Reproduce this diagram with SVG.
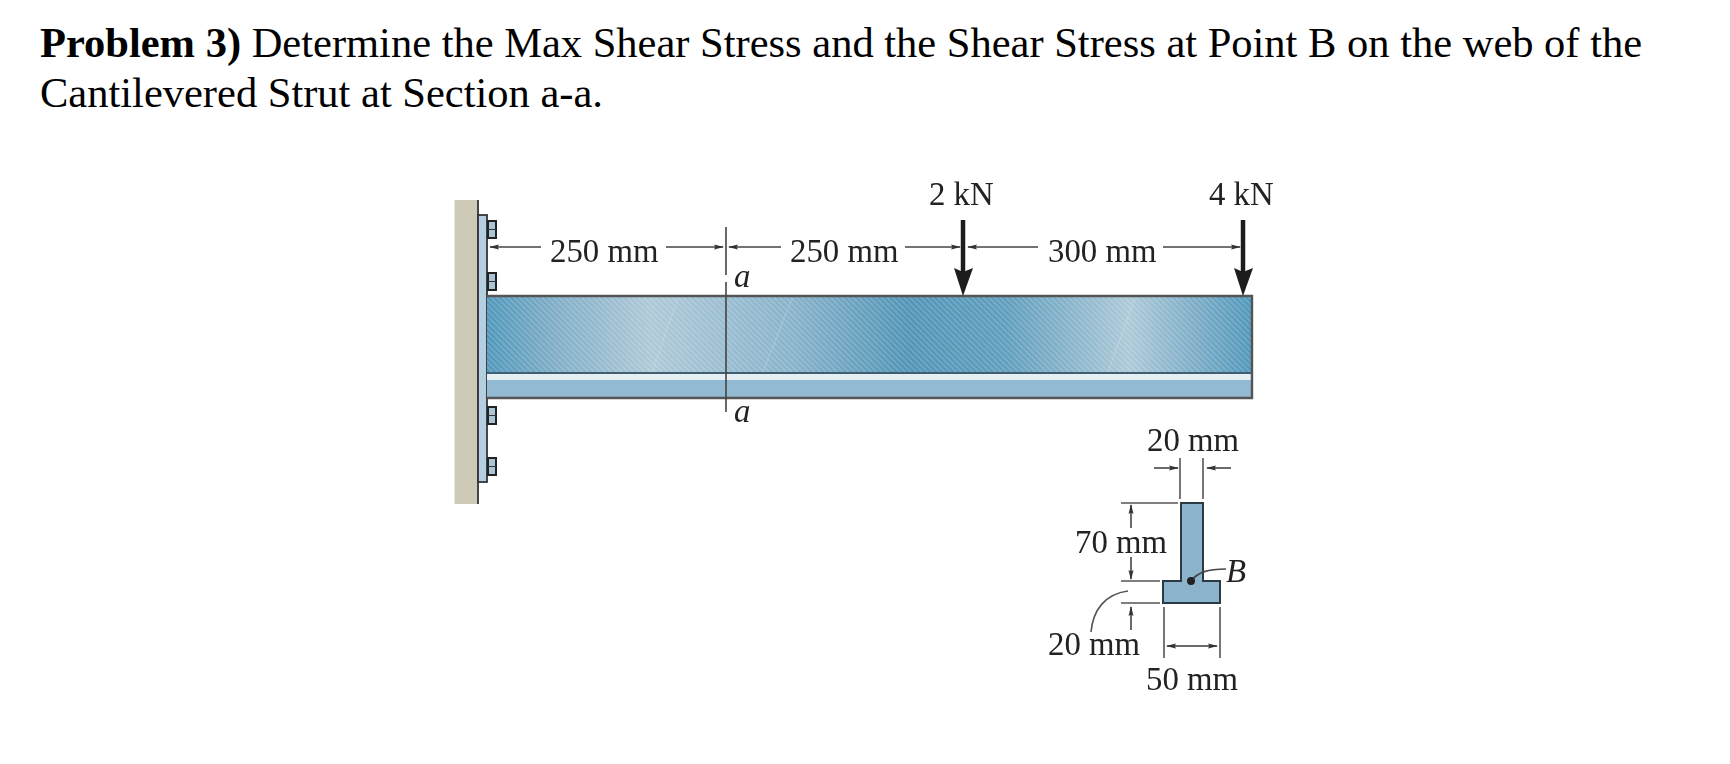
<svg xmlns="http://www.w3.org/2000/svg" width="1730" height="764" viewBox="0 0 1730 764">
<style>
.t{font-family:"Liberation Serif","Times New Roman",serif;fill:#000;font-size:42.500px}
.d{font-family:"Liberation Serif","Times New Roman",serif;fill:#222;font-size:32.800px}
.i{font-style:italic}
.l{stroke:#444;stroke-width:1.600;fill:none}
.e{stroke:#555;stroke-width:1.600;fill:none}
.ar{marker-end:url(#m)}
.bolt{fill:#a9c4d4;stroke:#222;stroke-width:2}
</style>
<defs>
<marker id="m" markerWidth="10" markerHeight="6" refX="9" refY="2.500" orient="auto" markerUnits="userSpaceOnUse" viewBox="0 0 10 5"><path d="M0 0L10 2.500L0 5L1.500 2.500Z" fill="#333"/></marker>
<linearGradient id="web" x1="487" x2="1252" y1="0" y2="0" gradientUnits="userSpaceOnUse">
<stop offset="0" stop-color="#4e96ba"/><stop offset=".09" stop-color="#7fadc6"/><stop offset=".215" stop-color="#adc8d7"/><stop offset=".29" stop-color="#9dbfd2"/><stop offset=".4" stop-color="#86b1c9"/><stop offset=".55" stop-color="#4f93b6"/><stop offset=".68" stop-color="#5f9dbd"/><stop offset=".84" stop-color="#acc8d7"/><stop offset=".93" stop-color="#78aac5"/><stop offset="1" stop-color="#4e96ba"/>
</linearGradient>
<pattern id="h" width="4" height="4" patternUnits="userSpaceOnUse" patternTransform="rotate(-45)"><rect width="2" height="4" fill="#fff" fill-opacity=".16"/></pattern>
<filter id="b" x="-5%" y="-5%" width="110%" height="110%"><feGaussianBlur stdDeviation=".7"/></filter>
</defs>
<rect width="1730" height="764" fill="#fff"/>
<g id="title">
<text class="t" x="40" y="57"><tspan font-weight="700">Problem 3)</tspan> Determine the Max Shear Stress and the Shear Stress at Point B on the web of the</text>
<text class="t" x="40" y="107">Cantilevered Strut at Section a-a.</text>
</g>
<g filter="url(#b)">
<g id="wall">
<rect x="454.500" y="200" width="23" height="304" fill="#cdcbb7"/>
<path d="M478 200V504" stroke="#444" stroke-width="2"/>
</g>
<g id="plate">
<rect x="478" y="215" width="9" height="267" fill="#b4cfe0" stroke="#333" stroke-width="1.800"/>
<g id="bolts">
<rect class="bolt" x="488" y="221" width="8" height="17"/><path d="M488 229.500h8" stroke="#333"/>
<rect class="bolt" x="488" y="273" width="8" height="17"/><path d="M488 281.500h8" stroke="#333"/>
<rect class="bolt" x="488" y="407" width="8" height="17"/><path d="M488 415.500h8" stroke="#333"/>
<rect class="bolt" x="488" y="458" width="8" height="17"/><path d="M488 466.500h8" stroke="#333"/>
</g>
</g>
<g id="beam">
<rect x="487" y="296" width="765" height="77" fill="url(#web)"/>
<rect x="487" y="296" width="765" height="77" fill="url(#h)"/>
<path d="M652 372L678 298M763 372L792 298M1108 372L1135 298" stroke="#fff" stroke-opacity=".14" stroke-width="1.500"/>
<rect x="487" y="373" width="765" height="7" fill="#e6eff3"/>
<rect x="487" y="380" width="765" height="18" fill="#93bad3"/>
<path d="M487 296H1252V398H487" fill="none" stroke="#555" stroke-width="2.400"/>
<path d="M487 373H1252" stroke="#3f5f70" stroke-width="1.800"/>
</g>
<g id="connectors">
<path class="l" d="M726 227V275M726 282V412"/>
<path class="l ar" d="M541 247H490"/>
<path class="l ar" d="M666 247H723"/>
<path class="l ar" d="M781 247H729"/>
<path class="l ar" d="M905 247H960"/>
<path class="l ar" d="M1038 247H968"/>
<path class="l ar" d="M1163 247H1240"/>
<path d="M963 220V272M1243 220V272" stroke="#1d1d1d" stroke-width="4.500" fill="none"/>
<path d="M954 268L963 296L973 268L963 272ZM1234 268L1243 296L1253 268L1243 272Z" fill="#1d1d1d"/>
<path class="e" d="M1180 458V499M1203 458V499M1121 503H1178M1121 581H1160M1121 603H1160M1164 607V658M1220 607V658"/>
<path class="l ar" d="M1154 468H1178"/>
<path class="l ar" d="M1231 468H1207"/>
<path class="l ar" d="M1131 528V505"/>
<path class="l ar" d="M1131 557V579"/>
<path class="l ar" d="M1131 630V607"/>
<path class="l ar" d="M1192 646H1167"/>
<path class="l ar" d="M1192 646H1217"/>
<path class="e" d="M1091 632C1093 610 1105 594 1128 591"/>
</g>
<g id="section">
<path d="M1181 503H1203V581H1220V603H1163V581H1181Z" fill="#8cb3cc" stroke="#2a3a44" stroke-width="2"/>
<path class="l" d="M1191 581C1198 572 1208 569 1226 569"/>
<circle cx="1191" cy="581" r="4" fill="#222"/>
</g>
<g id="labels">
<text class="d" x="550" y="262">250 mm</text>
<text class="d" x="790" y="262">250 mm</text>
<text class="d" x="1048" y="262">300 mm</text>
<text class="d" x="929" y="205">2 kN</text>
<text class="d" x="1209" y="205">4 kN</text>
<text class="d i" x="734" y="287">a</text>
<text class="d i" x="734" y="422">a</text>
<text class="d" x="1147" y="451">20 mm</text>
<text class="d" x="1075" y="553">70 mm</text>
<text class="d" x="1048" y="655">20 mm</text>
<text class="d" x="1146" y="690">50 mm</text>
<text class="d i" x="1226" y="582">B</text>
</g>
</g>
</svg>
